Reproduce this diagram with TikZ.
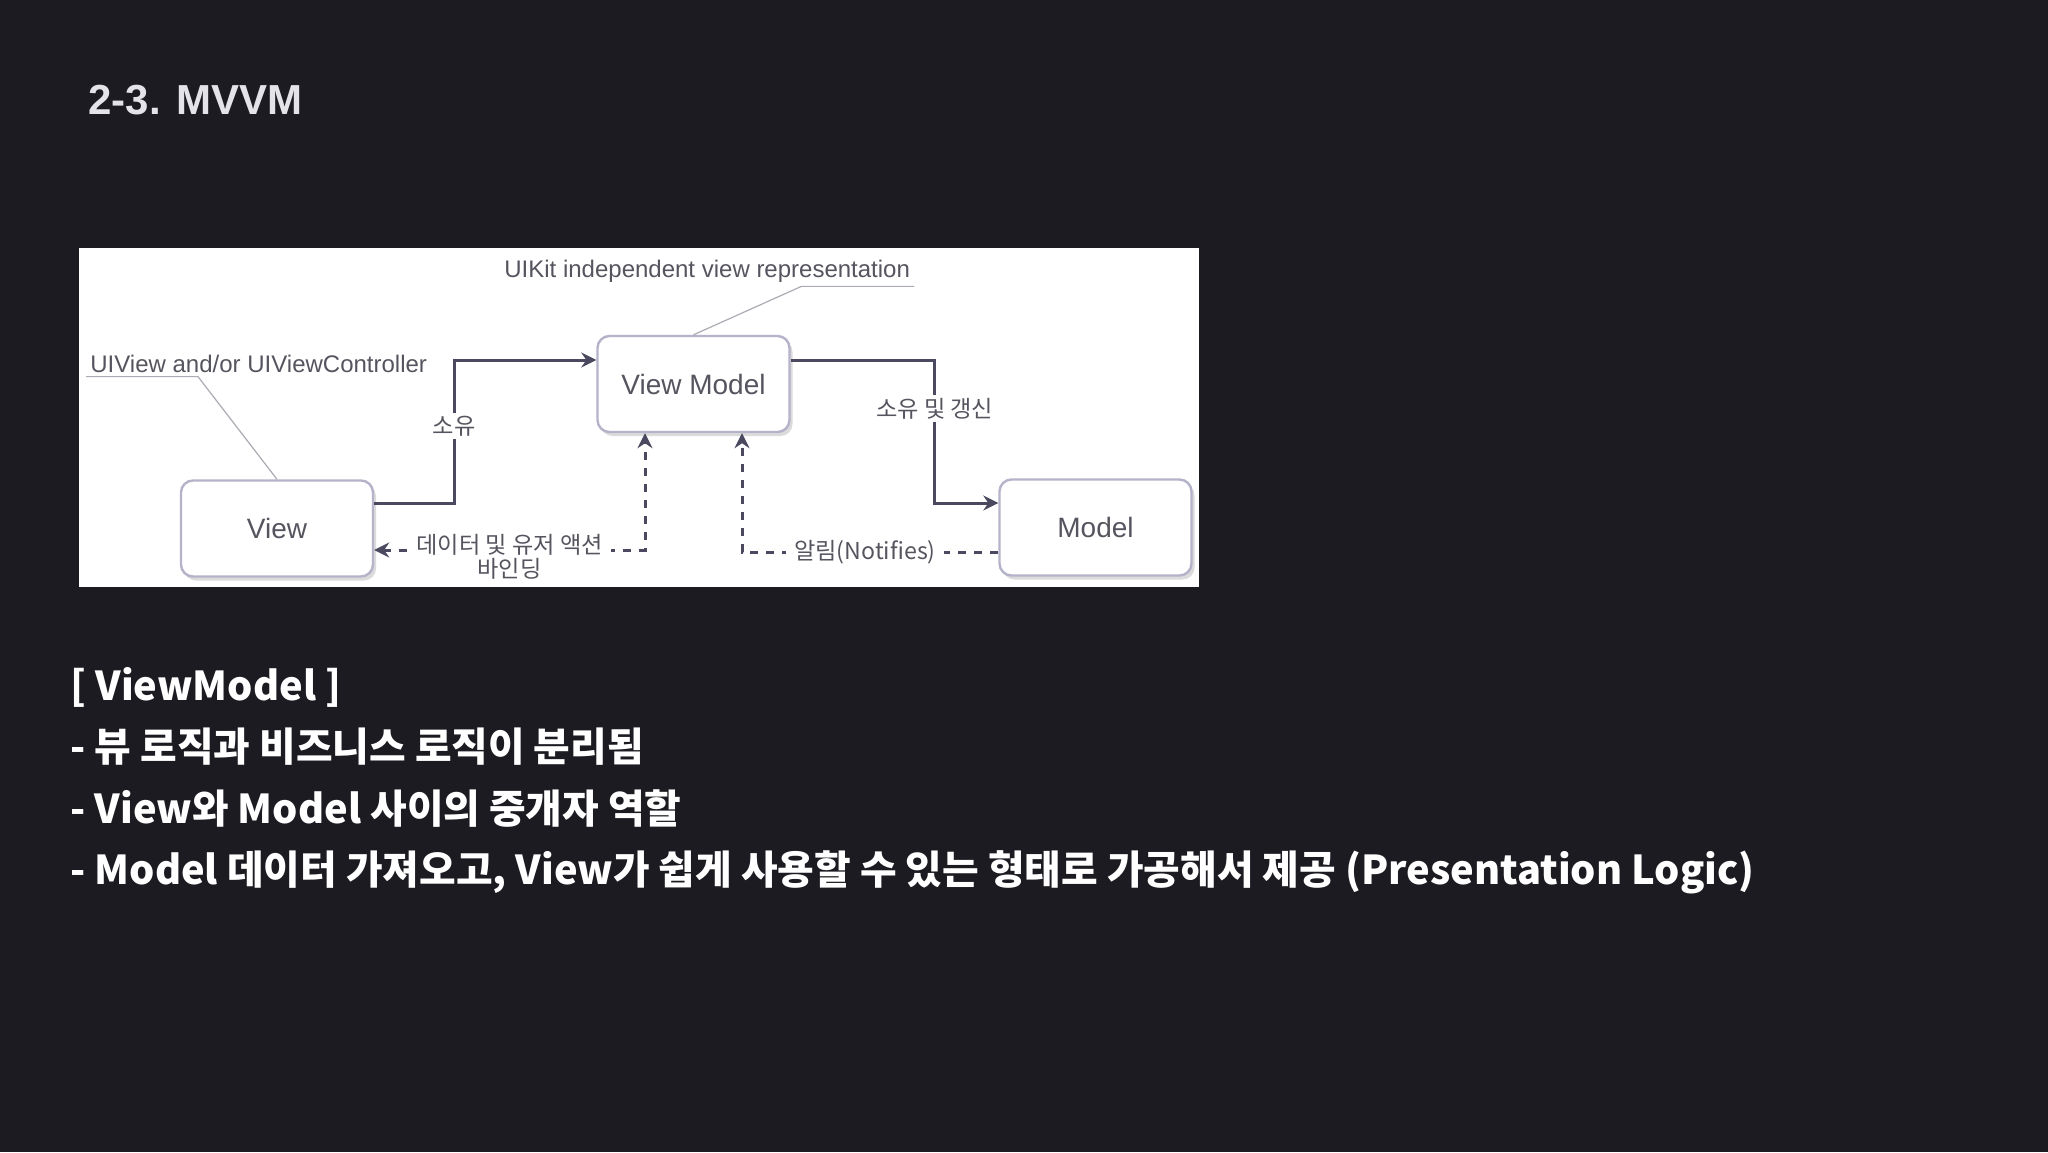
\documentclass[tikz,border=0pt]{standalone}
\usepackage{fontspec}
\setmainfont{Liberation Sans}
\newfontfamily\krfont{Noto Sans CJK KR}
\usetikzlibrary{positioning,arrows.meta,shadows,calc}
\definecolor{cBack}{HTML}{1C1B21}
\definecolor{cHead}{HTML}{E4E4E8}
\definecolor{cLine}{HTML}{4B4960}
\definecolor{cEdge}{HTML}{B4B3CA}
\definecolor{cInk}{HTML}{56555F}
\definecolor{cNote}{HTML}{ABABB3}

\begin{document}
\begin{tikzpicture}[
  x=0.5pt, y=-0.5pt,
  >={Stealth[length=7.5pt,width=7.5pt,inset=2.5pt]},
  box/.style={draw=cEdge, fill=white, rounded corners=6pt, line width=1.2pt,
              minimum width=96pt, minimum height=48pt, text=cInk,
              font=\fontsize{14}{16}\selectfont,
              drop shadow={shadow xshift=1.5pt, shadow yshift=-2pt, fill=black!28}},
  note/.style={text=cInk, font=\fontsize{12}{14}\selectfont, inner sep=2pt},
  klbl/.style={text=cInk, font=\krfont\fontsize{11.6}{12}\selectfont,
               fill=white, inner xsep=4pt, inner ysep=1.5pt, align=center},
  own/.style={->, draw=cLine, line width=1.5pt},
  bind/.style={draw=cLine, line width=1.5pt, dash pattern=on 4pt off 4pt},
  lead/.style={draw=cNote, line width=0.6pt},
  body/.style={anchor=base west, text=white, inner sep=0pt,
               font=\krfont\bfseries\fontsize{19.9}{24}\selectfont}]

% ---------- slide ----------
\fill[cBack] (0,0) rectangle (2048,1152);
\node[anchor=base west, inner sep=0pt, text=cHead,
      font=\bfseries\fontsize{21}{24}\selectfont] (title) at (88,114) {2-3. MVVM};
\fill[white] (79,248) rectangle (1199,587);

% ---------- boxes ----------
\node[box] (view) at (277,528.5) {View};
\node[box] (vm) at (693.5,384) {View Model};
\node[box] (model) at (1095.5,527.5) {Model};

% ---------- notes ----------
\node[note, anchor=base west] (uiv) at (86,372) {UIView and/or UIViewController};
\node[note, anchor=base west] (uikit) at (500,277) {UIKit independent view representation};
\draw[lead] (uiv.south west) -- ++(112,0) -- (view.north);
\draw[lead] (uikit.south east) -- ++(-113,0) -- (vm.north);

% ---------- edges ----------
\draw[own] ([yshift=12.5pt]view.east) -- ++(80,0)
      |- node[klbl, pos=0.27]{소유} ([yshift=12pt]vm.west);
\draw[own] ([yshift=12pt]vm.east) -- ++(144,0)
      |- node[klbl, pos=0.17]{소유 및 갱신} ([yshift=12.25pt]model.west);
\draw[bind, <->] ([yshift=-10.75pt]view.east)
      -| node[klbl, pos=0.25, yshift=-3.5pt]{데이터 및 유저 액션\\바인딩} ([xshift=-24.25pt]vm.south);
\draw[bind, ->] ([yshift=-12.25pt]model.west)
      -| node[klbl, pos=0.26]{알림(Notifies)} ([xshift=24.25pt]vm.south);

% ---------- text ----------
\node[body] (head) at (70,700) {[ ViewModel ]};
\node[body] (l1) at (70,761) {- 뷰 로직과 비즈니스 로직이 분리됨};
\node[body] (l2) at (70,823) {- View와 Model 사이의 중개자 역할};
\node[body] (l3) at (70,884) {- Model 데이터 가져오고, View가 쉽게 사용할 수 있는 형태로 가공해서 제공 (Presentation Logic)};
\end{tikzpicture}
\end{document}
